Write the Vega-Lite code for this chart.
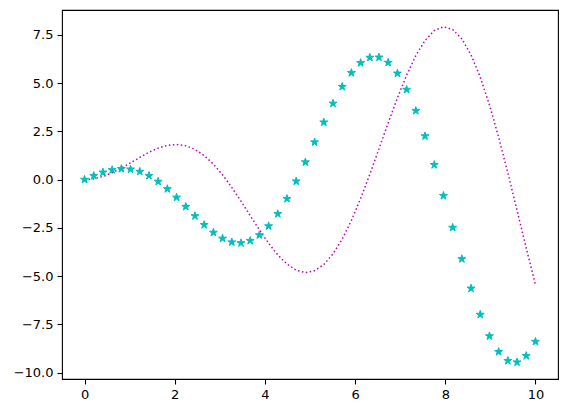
{
  "$schema": "https://vega.github.io/schema/vega-lite/v6.json",
  "width": 496,
  "height": 369,
  "autosize": "none",
  "padding": {"left": 62, "top": 10, "right": 10, "bottom": 34},
  "background": "white",
  "config": {
    "view": {"stroke": "black", "strokeWidth": 1.1},
    "axis": {
      "grid": false,
      "domain": false,
      "tickColor": "black",
      "tickSize": 5,
      "tickWidth": 1.1,
      "labelFont": "DejaVu Sans",
      "labelFontSize": 13,
      "labelColor": "black",
      "labelPadding": 4,
      "title": null
    }
  },
  "data": {
    "values": [
      {"x": 0.0, "s": 0.0, "c": 0.0},
      {"x": 0.204082, "s": 0.04136, "c": 0.19985},
      {"x": 0.408163, "s": 0.16201, "c": 0.37463},
      {"x": 0.612245, "s": 0.35186, "c": 0.50104},
      {"x": 0.816327, "s": 0.5948, "c": 0.55911},
      {"x": 1.020408, "s": 0.86972, "c": 0.53369},
      {"x": 1.22449, "s": 1.1518, "c": 0.41562},
      {"x": 1.428571, "s": 1.41415, "c": 0.20249},
      {"x": 1.632653, "s": 1.62953, "c": -0.10094},
      {"x": 1.836735, "s": 1.77216, "c": -0.48274},
      {"x": 2.040816, "s": 1.8195, "c": -0.92431},
      {"x": 2.244898, "s": 1.75387, "c": -1.40126},
      {"x": 2.44898, "s": 1.5638, "c": -1.88469},
      {"x": 2.653061, "s": 1.24516, "c": -2.34272},
      {"x": 2.857143, "s": 0.8018, "c": -2.74233},
      {"x": 3.061224, "s": 0.24576, "c": -3.05134},
      {"x": 3.265306, "s": -0.40293, "c": -3.24035},
      {"x": 3.469388, "s": -1.11699, "c": -3.28466},
      {"x": 3.673469, "s": -1.86301, "c": -3.166},
      {"x": 3.877551, "s": -2.60299, "c": -2.87399},
      {"x": 4.081633, "s": -3.29625, "c": -2.40716},
      {"x": 4.285714, "s": -3.90149, "c": -1.77363},
      {"x": 4.489796, "s": -4.37902, "c": -0.99117},
      {"x": 4.693878, "s": -4.69308, "c": -0.08689},
      {"x": 4.897959, "s": -4.81387, "c": 0.9037},
      {"x": 5.102041, "s": -4.7196, "c": 1.9381},
      {"x": 5.306122, "s": -4.39802, "c": 2.96856},
      {"x": 5.510204, "s": -3.84762, "c": 3.94438},
      {"x": 5.714286, "s": -3.07831, "c": 4.81425},
      {"x": 5.918367, "s": -2.11156, "c": 5.52887},
      {"x": 6.122449, "s": -0.97986, "c": 6.04348},
      {"x": 6.326531, "s": 0.27414, "c": 6.32059},
      {"x": 6.530612, "s": 1.59941, "c": 6.33172},
      {"x": 6.734694, "s": 2.93851, "c": 6.05981},
      {"x": 6.938776, "s": 4.23007, "c": 5.50028},
      {"x": 7.142857, "s": 5.41163, "c": 4.66204},
      {"x": 7.346939, "s": 6.42259, "c": 3.56765},
      {"x": 7.55102, "s": 7.20713, "c": 2.25282},
      {"x": 7.755102, "s": 7.71722, "c": 0.76557},
      {"x": 7.959184, "s": 7.91518, "c": -0.83578},
      {"x": 8.163265, "s": 7.77593, "c": -2.4847},
      {"x": 8.367347, "s": 7.28878, "c": -4.1093},
      {"x": 8.571429, "s": 6.45845, "c": -5.63541},
      {"x": 8.77551, "s": 5.30569, "c": -6.98993},
      {"x": 8.979592, "s": 3.86682, "c": -8.10437},
      {"x": 9.183673, "s": 2.1928, "c": -8.91804},
      {"x": 9.387755, "s": 0.34749, "c": -9.38132},
      {"x": 9.591837, "s": -1.59495, "c": -9.4583},
      {"x": 9.795918, "s": -3.55277, "c": -9.12896},
      {"x": 10.0, "s": -5.44021, "c": -8.39072}
    ]
  },
  "layer": [
    {
      "mark": {"type": "line", "color": "#bf00bf", "strokeWidth": 1.5, "strokeDash": [1.5, 2.5], "strokeCap": "butt"},
      "encoding": {
        "x": {
          "field": "x",
          "type": "quantitative",
          "scale": {"domain": [-0.5, 10.5], "nice": false, "zero": false},
          "axis": {"orient": "bottom", "values": [0, 2, 4, 6, 8, 10], "format": "d"}
        },
        "y": {
          "field": "s",
          "type": "quantitative",
          "scale": {"domain": [-10.327, 8.784], "nice": false, "zero": false},
          "axis": {
            "orient": "left",
            "values": [-10, -7.5, -5, -2.5, 0, 2.5, 5, 7.5],
            "format": ".1f",
            "labelExpr": "replace(datum.label, '-', '\u2212')"
          }
        }
      }
    },
    {
      "mark": {"type": "point", "shape": "M0,-1L0.2245,-0.309L0.951,-0.309L0.3633,0.118L0.588,0.809L0,0.382L-0.588,0.809L-0.3633,0.118L-0.951,-0.309L-0.2245,-0.309Z", "filled": true, "size": 70, "color": "#00bfbf", "opacity": 1, "stroke": "#00bfbf", "strokeWidth": 1},
      "encoding": {
        "x": {"field": "x", "type": "quantitative"},
        "y": {"field": "c", "type": "quantitative"}
      }
    }
  ]
}
